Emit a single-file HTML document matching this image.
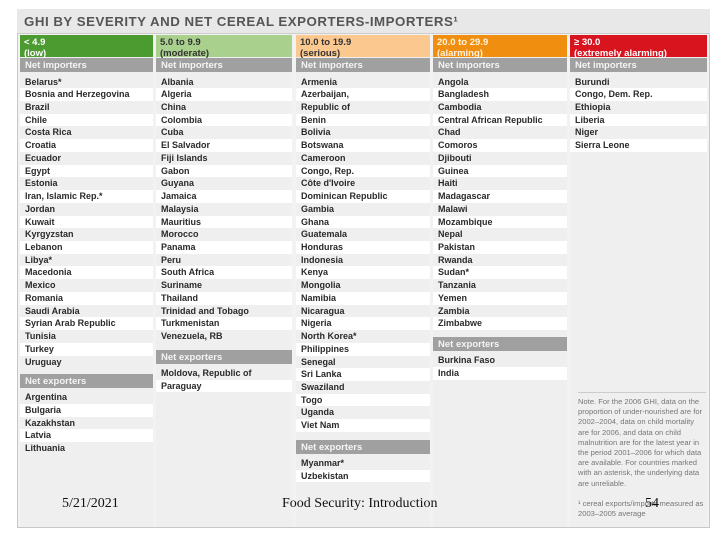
<!DOCTYPE html>
<html><head><meta charset="utf-8">
<style>
*{margin:0;padding:0;box-sizing:border-box}
body{width:720px;height:540px;background:#fff;position:relative;overflow:hidden;font-family:"Liberation Sans",sans-serif}
.abs{position:absolute}
#frame{left:17px;top:9px;width:693px;height:519px;border:1px solid #c8c8c8;background:#f2f2f2}
#title{left:17px;top:9px;width:693px;height:25px;background:#e8e8e8;border-bottom:1px solid #ccc;font-weight:bold;font-size:13.3px;color:#555;padding:5px 0 0 7px;letter-spacing:0.5px;white-space:nowrap}
.col{background:#eeefee}
.hdr{font-size:9.5px;line-height:11px;padding:2px 0 0 4px;font-weight:bold}
.sub{background:#a0a0a0;color:#f4f4f4;font-size:9.5px;font-weight:bold;padding:2px 0 0 5px;height:14px}
.row{font-size:9px;font-weight:bold;color:#2a2a2a;padding-left:5px;height:12.73px;line-height:12.73px;white-space:nowrap}
.foot{font-family:"Liberation Serif",serif;font-size:14px;color:#111}
.note{font-size:7.6px;color:#777;line-height:10.2px}
</style></head><body>
<div id="frame" class="abs"></div>
<div id="title" class="abs">GHI BY SEVERITY AND NET CEREAL EXPORTERS-IMPORTERS¹</div>
<div id="table"></div>
<div class="abs note" style="left:578px;top:392px;width:128px;border-top:1px solid #ccc;padding-top:4px">Note. For the 2006 GHI, data on the proportion of under-nourished are for 2002–2004, data on child mortality are for 2006, and data on child malnutrition are for the latest year in the period 2001–2006 for which data are available. For countries marked with an asterisk, the underlying data are unreliable.<br><br>¹ cereal exports/imports measured as 2003–2005 average</div>
<div class="abs foot" style="left:62px;top:496px">5/21/2021</div>
<div class="abs foot" style="left:282px;top:496px">Food Security: Introduction</div>
<div class="abs foot" style="left:645px;top:496px">54</div>
<script>
const colX=[20,156,296,433,570];
const colW=[133,136,134,134,137];
const headers=[["< 4.9","(low)"],["5.0 to 9.9","(moderate)"],["10.0 to 19.9","(serious)"],["20.0 to 29.9","(alarming)"],["≥ 30.0","(extremely alarming)"]];
const headerBg=["#4c9b30","#a9d08c","#fbc88f","#f08f0f","#d8141f"];
const headerFg=["#fff","#333","#333","#fff3e0","#fff"];
const importers=[
["Belarus*","Bosnia and Herzegovina","Brazil","Chile","Costa Rica","Croatia","Ecuador","Egypt","Estonia","Iran, Islamic Rep.*","Jordan","Kuwait","Kyrgyzstan","Lebanon","Libya*","Macedonia","Mexico","Romania","Saudi Arabia","Syrian Arab Republic","Tunisia","Turkey","Uruguay"],
["Albania","Algeria","China","Colombia","Cuba","El Salvador","Fiji Islands","Gabon","Guyana","Jamaica","Malaysia","Mauritius","Morocco","Panama","Peru","South Africa","Suriname","Thailand","Trinidad and Tobago","Turkmenistan","Venezuela, RB"],
["Armenia","Azerbaijan,","Republic of","Benin","Bolivia","Botswana","Cameroon","Congo, Rep.","Côte d'Ivoire","Dominican Republic","Gambia","Ghana","Guatemala","Honduras","Indonesia","Kenya","Mongolia","Namibia","Nicaragua","Nigeria","North Korea*","Philippines","Senegal","Sri Lanka","Swaziland","Togo","Uganda","Viet Nam"],
["Angola","Bangladesh","Cambodia","Central African Republic","Chad","Comoros","Djibouti","Guinea","Haiti","Madagascar","Malawi","Mozambique","Nepal","Pakistan","Rwanda","Sudan*","Tanzania","Yemen","Zambia","Zimbabwe"],
["Burundi","Congo, Dem. Rep.","Ethiopia","Liberia","Niger","Sierra Leone"]];
const exporters=[["Argentina","Bulgaria","Kazakhstan","Latvia","Lithuania"],["Moldova, Republic of","Paraguay"],["Myanmar*","Uzbekistan"],["Burkina Faso","India"],[]];
const rowH=12.73, rowTop=75.5;
const t=document.getElementById('table');
function mk(cls,x,y,w,h){const d=document.createElement('div');d.className='abs '+cls;d.style.left=x+'px';d.style.top=y+'px';d.style.width=w+'px';if(h)d.style.height=h+'px';t.appendChild(d);return d;}
for(let c=0;c<5;c++){
  const col=mk('col',colX[c],35,colW[c],492);
  
  
  const h=mk('hdr',colX[c],35,colW[c],22);
  h.style.background=headerBg[c];h.style.color=headerFg[c];
  h.innerHTML=headers[c][0]+'<br>'+headers[c][1];
  
  
  const s=mk('sub',colX[c],58,colW[c]);
  s.textContent='Net importers';
  
  
  importers[c].forEach((n,i)=>{
    const r=mk('row',colX[c],rowTop+i*rowH,colW[c]);
    r.style.background=i%2?'#ffffff':'#eeefee';
    r.textContent=n;
    
    
  });
  if(exporters[c].length){
    const y=rowTop+importers[c].length*rowH+(c==1?7:c==0?6:c==3?7:8);
    const e=mk('sub',colX[c],y,colW[c]);
    e.textContent='Net exporters';
    
    
    exporters[c].forEach((n,i)=>{
      const r=mk('row',colX[c],y+17+i*rowH,colW[c]);
      r.style.background=i%2?'#ffffff':'#eeefee';
      r.textContent=n;
      
      
    });
  }
}
</script>
</body></html>
